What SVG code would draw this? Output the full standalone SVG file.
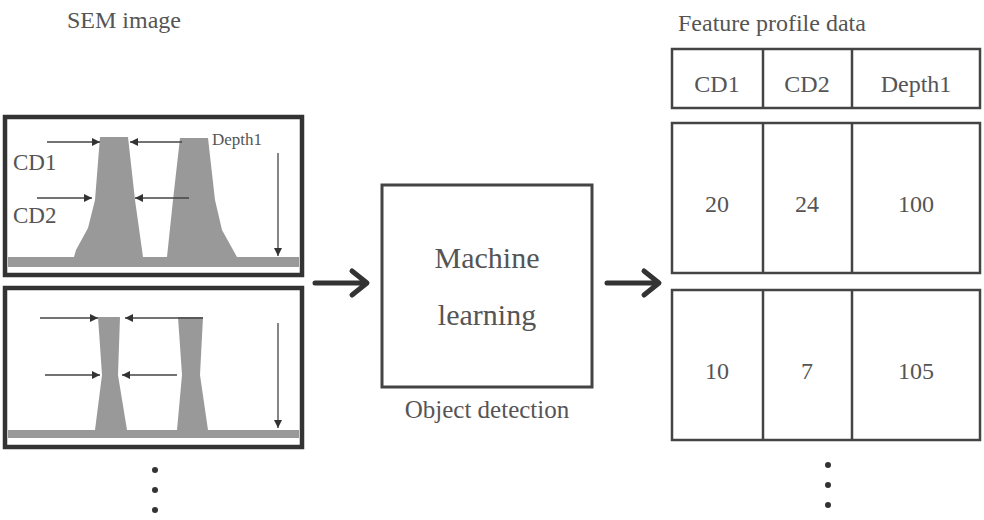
<svg xmlns="http://www.w3.org/2000/svg" width="984" height="520" viewBox="0 0 984 520">
<style>
text{font-family:'Liberation Serif','Times New Roman','DejaVu Serif',serif;fill:#555}
.t{font-size:24px}
.box{fill:none;stroke:#444;stroke-width:2.5}
.panel{fill:none;stroke:#333;stroke-width:4.5}
.f{fill:#999}
.a{stroke:#444;stroke-width:1.3;fill:none;marker-end:url(#ah)}
.big{stroke:#333;stroke-width:5;fill:none;stroke-linecap:round;stroke-linejoin:round}
.dot{fill:#333}
</style>
<defs>
<marker id="ah" viewBox="0 0 10 10" refX="10" refY="5" markerWidth="8" markerHeight="8" markerUnits="userSpaceOnUse" orient="auto"><path d="M0,0L10,5L0,10z" fill="#333"/></marker>
</defs>
<g font-family="Liberation Serif, Times New Roman, DejaVu Serif, serif">
<text x="67" y="28" class="t">SEM image</text>
<g id="sem1">
<rect x="5" y="117" width="297" height="158" class="panel"/>
<rect x="8" y="257" width="291" height="10" class="f"/>
<polygon class="f" points="100,137 128,137 135,200 143,257 74,257 76,250 88,228 95,200"/>
<polygon class="f" points="180,138 208,138 215,200 222,230 237,257 167,257 173,200"/>
<line x1="47" y1="142" x2="100" y2="142" class="a"/>
<line x1="182" y1="142" x2="130" y2="142" class="a"/>
<line x1="37" y1="198" x2="92" y2="198" class="a"/>
<line x1="189" y1="198" x2="135" y2="198" class="a"/>
<line x1="278" y1="153" x2="278" y2="256" class="a"/>
<text x="13" y="170" style="font-size:23px">CD1</text>
<text x="13" y="223" style="font-size:23px">CD2</text>
<text x="212" y="145" style="font-size:17px">Depth1</text>
</g>
<g id="sem2">
<rect x="5" y="288" width="297" height="159" class="panel"/>
<rect x="8" y="430" width="291" height="8" class="f"/>
<polygon class="f" points="98,317 120,317 118,375 127,430 95,430 102,375"/>
<polygon class="f" points="178,317 203,317 200,375 208,430 177,430 182,375"/>
<line x1="40" y1="318" x2="98" y2="318" class="a"/>
<line x1="203" y1="318" x2="125" y2="318" class="a"/>
<line x1="45" y1="375" x2="100" y2="375" class="a"/>
<line x1="177" y1="375" x2="122" y2="375" class="a"/>
<line x1="278" y1="323" x2="278" y2="428" class="a"/>
</g>
<g id="dots1"><circle cx="155" cy="470" r="3" class="dot"/><circle cx="155" cy="490" r="3" class="dot"/><circle cx="155" cy="510" r="3" class="dot"/></g>
<g id="ml">
<rect x="382" y="185" width="210" height="202" class="box" style="stroke-width:3"/>
<text x="487" y="268" text-anchor="middle" style="font-size:30px">Machine</text>
<text x="487" y="325" text-anchor="middle" style="font-size:30px">learning</text>
<text x="487" y="418" text-anchor="middle" style="font-size:25px">Object detection</text>
</g>
<g id="table">
<text x="678" y="31" class="t">Feature profile data</text>
<rect x="672" y="49" width="308" height="59" class="box"/>
<line x1="763" y1="49" x2="763" y2="108" class="box"/>
<line x1="852" y1="49" x2="852" y2="108" class="box"/>
<text x="717" y="92" class="t" text-anchor="middle">CD1</text>
<text x="807" y="92" class="t" text-anchor="middle">CD2</text>
<text x="916" y="92" class="t" text-anchor="middle">Depth1</text>
<rect x="672" y="123" width="308" height="150" class="box"/>
<line x1="763" y1="123" x2="763" y2="273" class="box"/>
<line x1="852" y1="123" x2="852" y2="273" class="box"/>
<text x="717" y="212" class="t" text-anchor="middle">20</text>
<text x="807" y="212" class="t" text-anchor="middle">24</text>
<text x="916" y="212" class="t" text-anchor="middle">100</text>
<rect x="672" y="290" width="308" height="150" class="box"/>
<line x1="763" y1="290" x2="763" y2="440" class="box"/>
<line x1="852" y1="290" x2="852" y2="440" class="box"/>
<text x="717" y="379" class="t" text-anchor="middle">10</text>
<text x="807" y="379" class="t" text-anchor="middle">7</text>
<text x="916" y="379" class="t" text-anchor="middle">105</text>
</g>
<g id="dots2"><circle cx="828" cy="465" r="3" class="dot"/><circle cx="828" cy="485" r="3" class="dot"/><circle cx="828" cy="505" r="3" class="dot"/></g>
</g>
<g id="connectors">
<path d="M315,283H366M352,271L367,283L352,295" class="big"/>
<path d="M607,283H658M644,271L659,283L644,295" class="big"/>
</g>
</svg>
